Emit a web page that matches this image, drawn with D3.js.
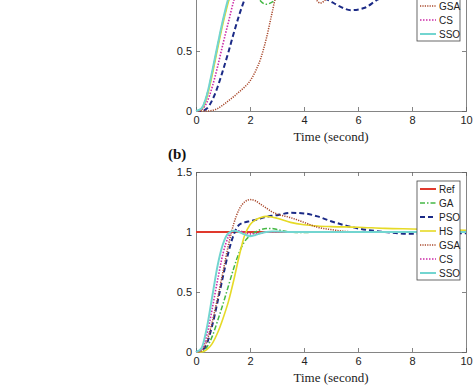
<!DOCTYPE html>
<html>
<head>
<meta charset="utf-8">
<script src="https://cdn.jsdelivr.net/npm/d3@7"></script>
<style>
  body { margin: 0; background: #fff; }
  .axis path, .axis line { stroke: #666; stroke-width: 0.8; }
  .axis text { font-family: "Liberation Sans", Arial, sans-serif; font-size: 11px; fill: #222; }
  .xlabel { font-family: "Liberation Serif", "Times New Roman", serif; font-size: 13px; fill: #222; }
  .legend text { font-family: "Liberation Sans", Arial, sans-serif; font-size: 10px; fill: #222; }
</style>
</head>
<body>
<div id="chart"></div>
<script>
// series names (legend order)
var names = ["Ref", "GA", "PSO", "HS", "GSA", "CS", "SSO"];

// x / y ticks
var xTicks = [0, 2, 4, 6, 8, 10];
var yTicks = [0, 0.5, 1, 1.5];

// panel (a) - time samples and responses
var timeA = [0, 0.2, 0.4, 0.6, 0.8, 1.0, 1.2, 1.4, 1.6, 1.8, 2.0, 2.2, 2.4, 2.6, 2.8, 3.0, 3.2, 3.5, 4.0, 4.3, 4.6, 4.9, 5.25, 5.75, 6.25, 6.7, 7.2, 8, 9, 10];
var refA = [1, 1, 1, 1, 1, 1, 1, 1, 1, 1, 1, 1, 1, 1, 1, 1, 1, 1, 1, 1, 1, 1, 1, 1, 1, 1, 1, 1, 1, 1];
var gaA  = [0, 0.02, 0.13, 0.32, 0.54, 0.75, 0.92, 1.06, 1.15, 1.18, 1.12, 0.99, 0.915, 0.89, 0.905, 0.94, 0.98, 1.03, 1.04, 1.02, 1.0, 0.99, 1, 1, 1, 1, 1, 1, 1, 1];
var psoA = [0, 0, 0.02, 0.09, 0.2, 0.34, 0.49, 0.65, 0.8, 0.93, 1.03, 1.1, 1.15, 1.18, 1.19, 1.18, 1.16, 1.12, 1.04, 0.99, 0.95, 0.925, 0.88, 0.84, 0.86, 0.925, 0.98, 1.02, 1.0, 1.0];
var hsA  = [0, 0.01, 0.11, 0.3, 0.52, 0.73, 0.91, 1.05, 1.13, 1.15, 1.12, 1.07, 1.03, 1.0, 0.98, 0.975, 0.98, 0.99, 1, 1, 1, 1, 1, 1, 1, 1, 1, 1, 1, 1];
var gsaA = [0, 0, 0, 0.005, 0.02, 0.05, 0.085, 0.12, 0.16, 0.2, 0.25, 0.33, 0.44, 0.6, 0.8, 1.0, 1.12, 1.2, 1.08, 0.98, 0.9, 0.95, 1.03, 1.06, 1.03, 1.0, 0.99, 1, 1, 1];
var csA  = [0, 0.01, 0.07, 0.2, 0.37, 0.56, 0.74, 0.92, 1.05, 1.12, 1.14, 1.12, 1.08, 1.04, 1.01, 0.99, 0.98, 0.985, 1, 1, 1, 1, 1, 1, 1, 1, 1, 1, 1, 1];
var ssoA = [0, 0.02, 0.13, 0.33, 0.55, 0.76, 0.94, 1.06, 1.1, 1.1, 1.07, 1.04, 1.01, 0.99, 0.985, 0.99, 1, 1, 1, 1, 1, 1, 1, 1, 1, 1, 1, 1, 1, 1];

// panel (b)
var timeB = [0, 0.2, 0.4, 0.6, 0.8, 1.0, 1.2, 1.4, 1.6, 1.8, 2.0, 2.2, 2.4, 2.6, 2.8, 3.0, 3.5, 4, 4.5, 5, 6, 7, 8, 9, 10];
var refB = [1, 1, 1, 1, 1, 1, 1, 1, 1, 1, 1, 1, 1, 1, 1, 1, 1, 1, 1, 1, 1, 1, 1, 1, 1];
var gaB  = [0, 0, 0.04, 0.13, 0.26, 0.4, 0.55, 0.7, 0.83, 0.92, 0.97, 1.0, 1.02, 1.03, 1.03, 1.02, 1.0, 0.995, 1, 1, 1, 1, 1, 1, 1];
var psoB = [0, 0.01, 0.07, 0.22, 0.42, 0.63, 0.83, 0.98, 1.06, 1.08, 1.09, 1.1, 1.115, 1.125, 1.135, 1.14, 1.16, 1.155, 1.13, 1.09, 1.03, 1.0, 0.985, 0.985, 0.99];
var hsB  = [0, 0, 0.02, 0.07, 0.16, 0.28, 0.42, 0.6, 0.8, 0.97, 1.06, 1.1, 1.12, 1.13, 1.125, 1.115, 1.08, 1.06, 1.05, 1.045, 1.04, 1.03, 1.025, 1.02, 1.015];
var gsaB = [0, 0.01, 0.09, 0.25, 0.45, 0.67, 0.89, 1.07, 1.19, 1.25, 1.27, 1.26, 1.23, 1.2, 1.17, 1.15, 1.12, 1.08, 1.04, 1.02, 1.0, 1, 1, 1, 1];
var csB  = [0, 0.02, 0.14, 0.36, 0.6, 0.82, 0.96, 1.01, 1.01, 0.995, 0.985, 0.985, 0.99, 1.0, 1, 1, 1, 1, 1, 1, 1, 1, 1, 1, 1];
var ssoB = [0, 0.03, 0.2, 0.46, 0.72, 0.9, 0.99, 1.01, 1.0, 0.98, 0.965, 0.975, 0.99, 1.0, 1.005, 1.005, 1, 1, 1, 1, 1, 1, 1, 1, 1];

// line styles per series
var styles = {
  Ref: {color: "#e0392d", width: 2,   dash: null},
  GA:  {color: "#45b845", width: 1.5, dash: "5,2,1.5,2"},
  PSO: {color: "#1b2a86", width: 2,   dash: "5,3"},
  HS:  {color: "#e6da26", width: 1.6, dash: null},
  GSA: {color: "#a9492c", width: 1.5, dash: "1.2,1.2"},
  CS:  {color: "#cc2ba8", width: 1.6, dash: "1.5,1.5"},
  SSO: {color: "#72d5d0", width: 2,   dash: null}
};

var W = 474, H = 386;
var svg = d3.select("#chart").append("svg")
    .attr("width", W)
    .attr("height", H);

// plot area geometry (panel a is cut off at the top of the picture)
var left = 196, right = 466, plotH = 180;

function drawPanel(top, legendTop, time, series, title) {
  var x = d3.scaleLinear().domain([0, 10]).range([left, right]);
  var y = d3.scaleLinear().domain([0, 1.5]).range([top + plotH, top]);

  var g = svg.append("g");

  // axes box with inward ticks
  g.append("g").attr("class", "axis")
      .attr("transform", "translate(0," + (top + plotH) + ")")
      .call(d3.axisBottom(x).tickValues(xTicks).tickSize(-4).tickPadding(5).tickFormat(d3.format("d")));
  g.append("g").attr("class", "axis")
      .attr("transform", "translate(0," + top + ")")
      .call(d3.axisTop(x).tickValues(xTicks).tickSize(-4).tickFormat(""));
  g.append("g").attr("class", "axis")
      .attr("transform", "translate(" + left + ",0)")
      .call(d3.axisLeft(y).tickValues(yTicks).tickSize(-4).tickPadding(4).tickFormat(function(d) { return d; }));
  g.append("g").attr("class", "axis")
      .attr("transform", "translate(" + right + ",0)")
      .call(d3.axisRight(y).tickValues(yTicks).tickSize(-4).tickFormat(""));

  // response curves
  var line = d3.line()
      .x(function(d) { return x(d[0]); })
      .y(function(d) { return y(d[1]); })
      .curve(d3.curveMonotoneX);

  names.forEach(function(name, i) {
    var pts = time.map(function(t, j) { return [t, series[i][j]]; });
    var s = styles[name];
    g.append("path")
        .datum(pts)
        .attr("fill", "none")
        .attr("stroke", s.color)
        .attr("stroke-width", s.width)
        .attr("stroke-dasharray", s.dash)
        .attr("d", line);
  });

  // legend
  var lg = g.append("g").attr("class", "legend")
      .attr("transform", "translate(417," + legendTop + ")");
  lg.append("rect")
      .attr("width", 43).attr("height", 99)
      .attr("fill", "#fff").attr("stroke", "#444").attr("stroke-width", 0.8);
  names.forEach(function(name, i) {
    var s = styles[name];
    var yy = 8 + i * 14;
    lg.append("line")
        .attr("x1", 3).attr("x2", 19).attr("y1", yy).attr("y2", yy)
        .attr("stroke", s.color).attr("stroke-width", s.width)
        .attr("stroke-dasharray", s.dash);
    lg.append("text")
        .attr("x", 22).attr("y", yy + 3.5)
        .text(name);
  });

  // x axis label
  g.append("text").attr("class", "xlabel")
      .attr("x", (left + right) / 2)
      .attr("y", top + plotH + 30)
      .attr("text-anchor", "middle")
      .text("Time (second)");

  if (title) {
    g.append("text")
        .attr("x", 168).attr("y", top - 13)
        .attr("font-family", "Liberation Serif, Times New Roman, serif")
        .attr("font-weight", "bold")
        .attr("font-size", 15)
        .attr("fill", "#111")
        .text(title);
  }
}

drawPanel(-69, -58, timeA, [refA, gaA, psoA, hsA, gsaA, csA, ssoA], null);
drawPanel(172, 181, timeB, [refB, gaB, psoB, hsB, gsaB, csB, ssoB], "(b)");

// panel (a) is cropped at the top: drop labels lying wholly above the picture
svg.selectAll("text").each(function() {
  var b = this.getBoundingClientRect();
  if (b.bottom <= 0) d3.select(this).remove();
});
</script>
</body>
</html>
